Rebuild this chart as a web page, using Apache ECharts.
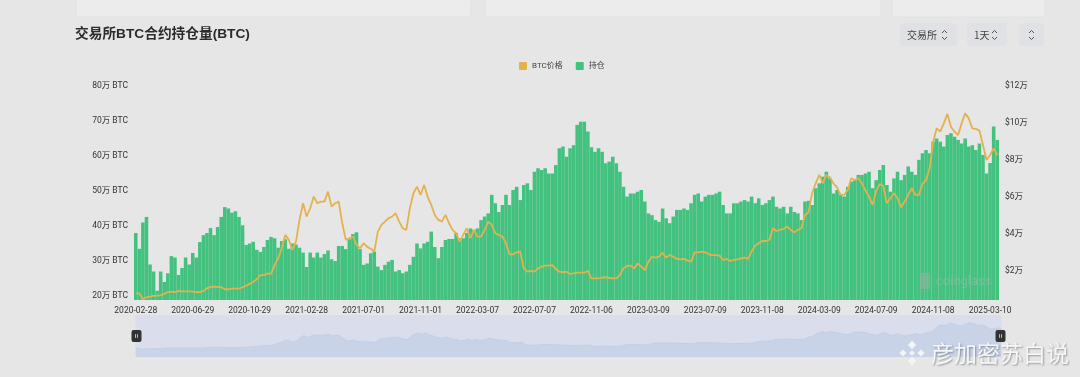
<!DOCTYPE html>
<html>
<head>
<meta charset="utf-8">
<style>
    html, body { margin: 0; padding: 0; background: #e6e6e6; }
    #chart { width: 1080px; height: 377px; }
</style>
<script src="https://cdn.jsdelivr.net/npm/echarts@6/dist/echarts.min.js"></script>
</head>
<body>
<div id="chart"></div>
<script>
let chartTitle = '交易所BTC合约持仓量(BTC)';
let tickDates = ['2020-02-28', '2020-06-29', '2020-10-29', '2021-02-28', '2021-07-01', '2021-11-01', '2022-03-07', '2022-07-07',
    '2022-11-06', '2023-03-09', '2023-07-09', '2023-11-08', '2024-03-09', '2024-07-09', '2024-11-08', '2025-03-10'];
let leftTicks = [20, 30, 40, 50, 60, 70, 80];
let rightTicks = [2, 4, 6, 8, 10, 12];

// 持仓, 单位万BTC, 每个刻度区间16个点
let openInterest = [
    38.0, 33.5, 41.0, 42.6, 29.0, 27.0, 21.5, 27.0, 24.0, 26.5, 31.4, 31.0, 26.0, 28.0, 31.0, 29.0,
    32.3, 31.0, 35.4, 37.4, 38.0, 39.4, 37.4, 39.7, 42.6, 45.4, 45.0, 43.8, 44.2, 42.6, 40.2, 34.6,
    35.0, 35.5, 33.2, 32.6, 34.0, 36.0, 36.9, 36.5, 33.8, 35.7, 36.2, 33.5, 35.0, 34.7, 33.8, 32.4,
    28.3, 32.4, 31.0, 32.4, 31.0, 32.0, 33.0, 30.5, 30.0, 34.3, 34.3, 33.4, 36.2, 37.7, 38.2, 33.4,
    28.9, 29.3, 32.2, 32.7, 28.4, 27.4, 28.9, 29.8, 30.3, 27.0, 27.4, 26.5, 27.0, 28.9, 31.2, 35.0,
    33.6, 35.0, 35.5, 38.4, 34.0, 30.8, 34.0, 36.0, 36.3, 36.3, 38.0, 36.5, 36.5, 38.0, 39.3, 38.9,
    39.3, 41.7, 42.7, 43.6, 48.9, 46.5, 44.0, 46.0, 48.9, 46.0, 50.3, 51.2, 47.4, 51.7, 52.2, 50.3,
    55.5, 56.5, 56.0, 56.5, 55.0, 55.0, 57.4, 62.2, 62.7, 59.8, 62.2, 63.1, 68.9, 69.8, 69.8, 67.0,
    62.5, 61.2, 62.2, 61.2, 57.9, 58.4, 59.8, 57.9, 55.5, 51.2, 48.4, 49.3, 49.3, 49.8, 50.3, 47.0,
    43.6, 43.1, 41.7, 41.2, 45.0, 42.2, 40.8, 42.7, 44.6, 44.6, 45.0, 44.6, 46.5, 48.9, 49.3, 47.0,
    48.4, 48.9, 48.9, 49.3, 49.8, 46.0, 43.6, 43.6, 46.5, 46.5, 47.0, 47.4, 47.0, 48.4, 46.5, 47.9,
    46.0, 46.5, 47.4, 48.4, 45.5, 45.0, 45.5, 43.6, 45.5, 44.0, 43.6, 41.7, 47.0, 47.2, 46.0, 50.8,
    52.2, 54.1, 55.5, 53.6, 49.3, 50.3, 48.9, 48.4, 51.2, 52.7, 53.1, 54.6, 54.6, 55.0, 55.5, 50.8,
    53.1, 56.0, 57.4, 51.7, 49.8, 53.6, 55.5, 53.1, 54.6, 57.0, 55.5, 54.6, 58.9, 60.8, 61.7, 60.8,
    64.1, 65.0, 64.1, 62.7, 66.0, 66.5, 65.5, 64.6, 63.6, 65.0, 62.7, 63.1, 61.7, 63.6, 60.3, 55.0,
    58.0, 68.4, 64.6
];
// BTC价格, 单位万美元
let btcPrice = [
    0.79, 0.79, 0.47, 0.58, 0.61, 0.65, 0.67, 0.68, 0.76, 0.86, 0.88, 0.85, 0.92, 0.90, 0.90, 0.90,
    0.88, 0.85, 0.86, 0.92, 1.06, 1.14, 1.15, 1.14, 1.12, 1.01, 1.01, 1.05, 1.05, 1.05, 1.12, 1.21,
    1.30, 1.42, 1.55, 1.78, 1.77, 1.87, 1.84, 2.32, 2.68, 3.23, 3.95, 3.68, 3.14, 3.59, 4.76, 5.66,
    4.94, 5.39, 6.02, 5.66, 5.75, 5.75, 6.29, 5.48, 5.66, 5.75, 4.58, 3.68, 3.77, 3.86, 3.41, 3.23,
    3.50, 3.30, 3.20, 3.05, 4.13, 4.49, 4.67, 4.85, 4.94, 5.12, 4.67, 4.31, 4.22, 5.39, 6.20, 6.56,
    6.11, 6.65, 6.02, 5.57, 5.03, 4.76, 4.67, 5.03, 4.58, 4.22, 4.04, 3.59, 3.95, 4.31, 3.77, 4.22,
    3.86, 3.86, 4.22, 4.67, 4.49, 4.04, 3.95, 3.86, 3.50, 2.90, 2.90, 3.01, 3.05, 2.14, 1.96, 2.00,
    1.96, 2.14, 2.23, 2.29, 2.29, 2.32, 2.11, 1.96, 1.93, 1.96, 1.84, 1.87, 1.91, 1.91, 1.91, 2.00,
    1.60, 1.60, 1.60, 1.64, 1.66, 1.62, 1.60, 1.60, 1.78, 2.14, 2.27, 2.29, 2.14, 2.41, 2.23, 2.05,
    2.50, 2.77, 2.72, 2.77, 2.99, 2.72, 2.86, 2.77, 2.65, 2.63, 2.65, 2.56, 2.50, 3.01, 3.01, 3.05,
    3.01, 2.90, 2.86, 2.86, 2.83, 2.59, 2.65, 2.54, 2.59, 2.63, 2.68, 2.72, 2.65, 3.05, 3.37, 3.50,
    3.62, 3.62, 3.68, 4.31, 4.16, 4.22, 4.27, 4.40, 4.22, 4.09, 4.22, 4.31, 5.03, 5.17, 6.20, 6.74,
    7.19, 6.74, 7.19, 7.06, 6.74, 6.52, 6.11, 6.11, 6.38, 7.01, 6.92, 7.01, 6.74, 6.34, 6.02, 5.57,
    6.34, 6.70, 6.59, 5.66, 5.93, 6.20, 5.93, 5.44, 5.75, 6.11, 6.47, 6.11, 6.11, 6.70, 6.92, 7.55,
    8.99, 9.71, 9.53, 9.98, 10.49, 9.80, 9.53, 9.35, 9.98, 10.52, 10.25, 9.71, 9.68, 9.59, 8.81, 8.00,
    8.27, 8.63, 8.27
];
let pointsPerTick = 16;

// 类目: 刻度点用真实日期, 中间的点只是占位
let categories = [];
for (let i = 0; i < openInterest.length; i++) {
    let tick = tickDates[Math.floor(i / pointsPerTick)];
    categories.push(i % pointsPerTick === 0 ? tick : tick + '+' + (i % pointsPerTick));
}

let fontFamily = 'Roboto, "Noto Sans CJK SC", sans-serif';
let cjkFont = '"Noto Sans CJK SC", sans-serif';
let handlePath = 'path://M0,2 Q0,0 2,0 L8,0 Q10,0 10,2 L10,10 Q10,12 8,12 L2,12 Q0,12 0,10 Z '
    + 'M3.6,4.2 L3.6,7.8 L4.4,7.8 L4.4,4.2 Z M5.6,4.2 L5.6,7.8 L6.4,7.8 L6.4,4.2 Z';
let legendIcon = 'path://M1,0 L7,0 Q8,0 8,1 L8,7 Q8,8 7,8 L1,8 Q0,8 0,7 L0,1 Q0,0 1,0 Z';

function panel(x, width) {
    return {
        type: 'rect',
        silent: true,
        shape: { x: x, y: -4, width: width, height: 21, r: 3 },
        style: { fill: '#ececec', stroke: '#e2e2e2', lineWidth: 1 }
    };
}
function chevrons(x) {
    return [
        { type: 'polyline', silent: true, shape: { points: [[x - 2.5, 33], [x, 30.5], [x + 2.5, 33]] }, style: { fill: 'none', stroke: '#555', lineWidth: 1 } },
        { type: 'polyline', silent: true, shape: { points: [[x - 2.5, 37], [x, 39.5], [x + 2.5, 37]] }, style: { fill: 'none', stroke: '#555', lineWidth: 1 } }
    ];
}
function button(x, width, label) {
    let items = [{
        type: 'rect',
        silent: true,
        shape: { x: x, y: 23, width: width, height: 23, r: 4 },
        style: { fill: '#dfe1e4' }
    }];
    if (label) {
        items.push({
            type: 'text',
            silent: true,
            style: { x: x + 7, y: 35, text: label, fill: '#444', font: '10px ' + cjkFont, textVerticalAlign: 'middle' }
        });
    }
    return items.concat(chevrons(x + width - 12.5));
}
// 币安菱形logo
function diamond(cx, cy, size) {
    return {
        type: 'rect',
        silent: true,
        z: 20,
        x: cx,
        y: cy,
        rotation: Math.PI / 4,
        shape: { x: -size / 2, y: -size / 2, width: size, height: size },
        style: { fill: '#f4f4f4' }
    };
}

let chart = echarts.init(document.getElementById('chart'));
let option = {
    animation: false,
    backgroundColor: '#e6e6e6',
    title: {
        text: chartTitle,
        left: 70,
        top: 22,
        textStyle: { fontSize: 13.7, fontWeight: 'bold', color: '#2b2b2b', fontFamily: 'Liberation Sans, "Noto Sans CJK SC", sans-serif' }
    },
    legend: {
        left: 514,
        top: 57,
        itemWidth: 8,
        itemHeight: 8,
        itemGap: 13,
        icon: legendIcon,
        textStyle: { fontSize: 8, color: '#444', fontFamily: fontFamily },
        data: ['BTC价格', '持仓']
    },
    grid: { left: 134, right: 81, top: 86, bottom: 77 },
    xAxis: {
        type: 'category',
        data: categories,
        axisLine: { show: false },
        axisTick: { show: false },
        axisLabel: {
            interval: pointsPerTick - 1,
            fontSize: 8.5,
            color: '#333',
            margin: 7,
            fontFamily: fontFamily,
            showMinLabel: true,
            formatter: function (val) {
                return val;
            }
        }
    },
    yAxis: [
        {
            type: 'value',
            min: 18.86,
            max: 80,
            splitLine: { show: false },
            axisLine: { show: false },
            axisTick: { show: false },
            axisLabel: {
                customValues: leftTicks,
                fontSize: 8.5,
                color: '#333',
                margin: 6,
                padding: [2, 0, 0, 0],
                fontFamily: fontFamily,
                formatter: function (val) {
                    return val + '万 BTC';
                }
            }
        },
        {
            type: 'value',
            min: 0.43,
            max: 12,
            splitLine: { show: false },
            axisLine: { show: false },
            axisTick: { show: false },
            axisLabel: {
                customValues: rightTicks,
                fontSize: 8.5,
                color: '#333',
                margin: 6,
                padding: [2, 0, 0, 0],
                fontFamily: fontFamily,
                formatter: function (val) {
                    return '$' + val + '万';
                }
            }
        }
    ],
    dataZoom: [{
        type: 'slider',
        xAxisIndex: 0,
        left: 133,
        right: 81,
        top: 315,
        height: 42,
        start: 0,
        end: 100,
        brushSelect: false,
        showDetail: false,
        moveHandleSize: 0,
        backgroundColor: '#dfe1ec',
        fillerColor: 'rgba(205,212,232,0.25)',
        borderColor: 'transparent',
        handleIcon: handlePath,
        handleSize: 12,
        handleStyle: { color: '#333', borderColor: '#333', borderWidth: 0 },
        dataBackground: {
            lineStyle: { color: '#bccae2', width: 0.8, opacity: 1 },
            areaStyle: { color: '#c8d3e9', opacity: 1 }
        },
        selectedDataBackground: {
            lineStyle: { color: '#bccae2', width: 0.8, opacity: 1 },
            areaStyle: { color: '#c8d3e9', opacity: 1 }
        }
    }],
    graphic: [
        panel(76, 395),
        panel(485, 396),
        panel(892, 153)
    ].concat(button(900, 57, '交易所'), button(967, 40, '1天'), button(1019, 25, ''), [
        {
            type: 'rect',
            silent: true,
            z: 20,
            shape: { x: 920, y: 273, width: 10, height: 16 },
            style: { fill: 'rgba(170,170,170,0.45)' }
        },
        {
            type: 'text',
            silent: true,
            z: 20,
            style: { x: 936, y: 282, text: 'coinglass', fill: 'rgba(170,185,180,0.5)', font: '13px ' + fontFamily, textVerticalAlign: 'middle' }
        },
        {
            type: 'text',
            silent: true,
            z: 20,
            style: {
                x: 931,
                y: 353,
                text: '彦加密苏白说',
                fill: '#f6f6f6',
                font: '23px ' + cjkFont,
                textVerticalAlign: 'middle',
                textShadowColor: 'rgba(0,0,0,0.35)',
                textShadowBlur: 2,
                textShadowOffsetX: 1,
                textShadowOffsetY: 1
            }
        },
        diamond(912, 345, 6),
        diamond(903, 353, 5),
        diamond(921, 353, 5),
        diamond(912, 353, 4),
        diamond(912, 361, 6)
    ]),
    series: [
        {
            name: 'BTC价格',
            type: 'line',
            yAxisIndex: 1,
            data: btcPrice,
            showSymbol: false,
            symbol: 'none',
            z: 5,
            color: '#e3b24f',
            lineStyle: { width: 1.8, color: '#e3b24f' }
        },
        {
            name: '持仓',
            type: 'bar',
            yAxisIndex: 0,
            data: openInterest,
            barCategoryGap: 0,
            z: 2,
            color: '#43c17e'
        }
    ]
};
chart.setOption(option);
</script>
</body>
</html>
